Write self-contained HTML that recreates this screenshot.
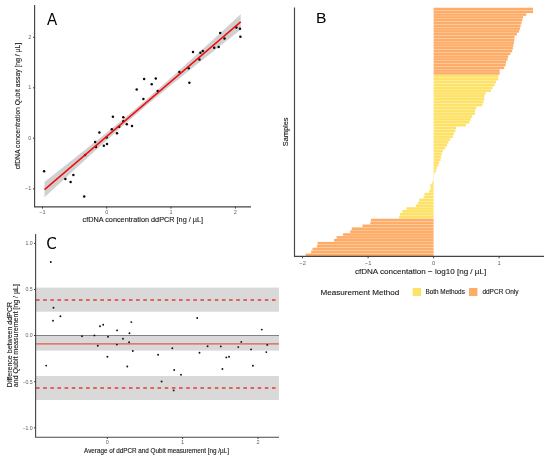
<!DOCTYPE html>
<html lang="en"><head><meta charset="utf-8"><title>cfDNA concentration figure</title>
<style>
html,body{margin:0;padding:0;background:#fff;}
body{width:550px;height:461px;overflow:hidden;}
svg{display:block;font-family:"Liberation Sans",sans-serif;}
.ax{stroke:#444;stroke-width:1.15;fill:none;}
.tk{stroke:#3c3c3c;stroke-width:1;}
.tl{font-size:5.5px;fill:#606060;}
.lab{font-size:7.2px;fill:#1a1a1a;stroke:#1a1a1a;stroke-width:0.12;}
</style></head><body>
<svg width="550" height="461" viewBox="0 0 550 461">
<rect width="550" height="461" fill="#fff"/>

<g id="panelA">
<polygon points="44.5,181.9 49.4,178.0 54.3,174.2 59.2,170.3 64.1,166.4 69.0,162.6 73.9,158.7 78.8,154.8 83.7,150.9 88.6,147.0 93.5,143.1 98.5,139.2 103.4,135.2 108.3,131.3 113.2,127.3 118.1,123.3 123.0,119.3 127.9,115.2 132.8,111.1 137.7,106.9 142.6,102.7 147.5,98.5 152.4,94.2 157.3,89.9 162.2,85.6 167.1,81.2 172.0,76.8 176.9,72.4 181.8,68.0 186.7,63.6 191.7,59.1 196.6,54.6 201.5,50.2 206.4,45.7 211.3,41.2 216.2,36.7 221.1,32.2 226.0,27.7 230.9,23.2 235.8,18.7 240.7,14.2 240.7,29.6 235.8,33.5 230.9,37.4 226.0,41.2 221.1,45.1 216.2,49.0 211.3,52.9 206.4,56.8 201.5,60.7 196.6,64.6 191.7,68.5 186.7,72.5 181.8,76.4 176.9,80.4 172.0,84.3 167.1,88.3 162.2,92.4 157.3,96.4 152.4,100.5 147.5,104.6 142.6,108.8 137.7,112.9 132.8,117.2 127.9,121.5 123.0,125.8 118.1,130.1 113.2,134.5 108.3,138.9 103.4,143.3 98.5,147.8 93.5,152.2 88.6,156.7 83.7,161.2 78.8,165.7 73.9,170.2 69.0,174.7 64.1,179.2 59.2,183.7 54.3,188.2 49.4,192.8 44.5,197.3" fill="#d0d0d0"/>
<circle cx="44.1" cy="171.2" r="1.25" fill="#0a0a0a"/>
<circle cx="65.4" cy="179.0" r="1.25" fill="#0a0a0a"/>
<circle cx="70.6" cy="182.0" r="1.25" fill="#0a0a0a"/>
<circle cx="73.4" cy="174.9" r="1.25" fill="#0a0a0a"/>
<circle cx="84.2" cy="196.4" r="1.25" fill="#0a0a0a"/>
<circle cx="85.1" cy="155.1" r="1.25" fill="#0a0a0a"/>
<circle cx="95.1" cy="142.1" r="1.25" fill="#0a0a0a"/>
<circle cx="96.0" cy="146.9" r="1.25" fill="#0a0a0a"/>
<circle cx="99.4" cy="132.6" r="1.25" fill="#0a0a0a"/>
<circle cx="103.8" cy="145.8" r="1.25" fill="#0a0a0a"/>
<circle cx="107.0" cy="144.1" r="1.25" fill="#0a0a0a"/>
<circle cx="106.6" cy="137.6" r="1.25" fill="#0a0a0a"/>
<circle cx="111.8" cy="129.3" r="1.25" fill="#0a0a0a"/>
<circle cx="112.9" cy="116.7" r="1.25" fill="#0a0a0a"/>
<circle cx="117.0" cy="133.2" r="1.25" fill="#0a0a0a"/>
<circle cx="119.2" cy="126.7" r="1.25" fill="#0a0a0a"/>
<circle cx="123.3" cy="117.2" r="1.25" fill="#0a0a0a"/>
<circle cx="123.3" cy="121.3" r="1.25" fill="#0a0a0a"/>
<circle cx="126.8" cy="124.3" r="1.25" fill="#0a0a0a"/>
<circle cx="132.0" cy="126.1" r="1.25" fill="#0a0a0a"/>
<circle cx="136.7" cy="89.4" r="1.25" fill="#0a0a0a"/>
<circle cx="143.4" cy="99.0" r="1.25" fill="#0a0a0a"/>
<circle cx="144.1" cy="78.9" r="1.25" fill="#0a0a0a"/>
<circle cx="151.7" cy="84.2" r="1.25" fill="#0a0a0a"/>
<circle cx="155.8" cy="78.5" r="1.25" fill="#0a0a0a"/>
<circle cx="157.7" cy="91.1" r="1.25" fill="#0a0a0a"/>
<circle cx="179.4" cy="72.0" r="1.25" fill="#0a0a0a"/>
<circle cx="188.7" cy="68.2" r="1.25" fill="#0a0a0a"/>
<circle cx="189.4" cy="82.8" r="1.25" fill="#0a0a0a"/>
<circle cx="193.0" cy="52.0" r="1.25" fill="#0a0a0a"/>
<circle cx="199.4" cy="59.6" r="1.25" fill="#0a0a0a"/>
<circle cx="200.4" cy="52.7" r="1.25" fill="#0a0a0a"/>
<circle cx="202.8" cy="51.0" r="1.25" fill="#0a0a0a"/>
<circle cx="214.2" cy="47.7" r="1.25" fill="#0a0a0a"/>
<circle cx="218.7" cy="47.0" r="1.25" fill="#0a0a0a"/>
<circle cx="220.2" cy="32.9" r="1.25" fill="#0a0a0a"/>
<circle cx="224.5" cy="38.4" r="1.25" fill="#0a0a0a"/>
<circle cx="236.4" cy="27.4" r="1.25" fill="#0a0a0a"/>
<circle cx="240.0" cy="28.8" r="1.25" fill="#0a0a0a"/>
<circle cx="240.4" cy="36.7" r="1.25" fill="#0a0a0a"/>
<line x1="44.5" y1="189.6" x2="240.7" y2="21.9" stroke="#f20d0d" stroke-width="1.5"/>
<path class="ax" d="M34.6 5V206.8H251"/>
<line class="tk" x1="33" y1="37.3" x2="34.6" y2="37.3"/>
<text class="tl" x="31.3" y="38.9" text-anchor="end">2</text>
<line class="tk" x1="33" y1="87.8" x2="34.6" y2="87.8"/>
<text class="tl" x="31.3" y="89.4" text-anchor="end">1</text>
<line class="tk" x1="33" y1="138.2" x2="34.6" y2="138.2"/>
<text class="tl" x="31.3" y="139.8" text-anchor="end">0</text>
<line class="tk" x1="33" y1="188.8" x2="34.6" y2="188.8"/>
<text class="tl" x="31.3" y="190.4" text-anchor="end">−1</text>
<line class="tk" x1="42.5" y1="206.8" x2="42.5" y2="208.6"/>
<text class="tl" x="42.5" y="214" text-anchor="middle">−1</text>
<line class="tk" x1="106.7" y1="206.8" x2="106.7" y2="208.6"/>
<text class="tl" x="106.7" y="214" text-anchor="middle">0</text>
<line class="tk" x1="171.0" y1="206.8" x2="171.0" y2="208.6"/>
<text class="tl" x="171.0" y="214" text-anchor="middle">1</text>
<line class="tk" x1="235.4" y1="206.8" x2="235.4" y2="208.6"/>
<text class="tl" x="235.4" y="214" text-anchor="middle">2</text>
<text class="lab" x="142.8" y="221.7" text-anchor="middle" style="font-size:7.3px">cfDNA concentration ddPCR [ng / µL]</text>
<text class="lab" transform="translate(20.3,106) rotate(-90)" text-anchor="middle" style="font-size:6.8px">cfDNA concentration Qubit assay [ng / µL]</text>
<text transform="translate(46.9,24.7) scale(0.92,1)" style="font-size:16.5px" fill="#000">A</text>
</g>
<g id="panelB">
<rect x="433.6" y="7.71" width="99.4" height="2.58" fill="#fdad68"/>
<rect x="433.6" y="10.51" width="99.4" height="2.58" fill="#fdad68"/>
<rect x="433.6" y="13.31" width="92.6" height="2.58" fill="#fdad68"/>
<rect x="433.6" y="16.11" width="89.4" height="2.58" fill="#fdad68"/>
<rect x="433.6" y="18.91" width="88.6" height="2.58" fill="#fdad68"/>
<rect x="433.6" y="21.71" width="87.9" height="2.58" fill="#fdad68"/>
<rect x="433.6" y="24.51" width="87.1" height="2.58" fill="#fdad68"/>
<rect x="433.6" y="27.31" width="86.4" height="2.58" fill="#fdad68"/>
<rect x="433.6" y="30.11" width="85.5" height="2.58" fill="#fdad68"/>
<rect x="433.6" y="32.91" width="83.3" height="2.58" fill="#fdad68"/>
<rect x="433.6" y="35.71" width="81.1" height="2.58" fill="#fdad68"/>
<rect x="433.6" y="38.51" width="80.8" height="2.58" fill="#fdad68"/>
<rect x="433.6" y="41.31" width="80.4" height="2.58" fill="#fdad68"/>
<rect x="433.6" y="44.11" width="79.8" height="2.58" fill="#fdad68"/>
<rect x="433.6" y="46.91" width="79.3" height="2.58" fill="#fdad68"/>
<rect x="433.6" y="49.71" width="78.6" height="2.58" fill="#fdad68"/>
<rect x="433.6" y="52.51" width="76.8" height="2.58" fill="#fdad68"/>
<rect x="433.6" y="55.31" width="74.6" height="2.58" fill="#fdad68"/>
<rect x="433.6" y="58.11" width="73.9" height="2.58" fill="#fdad68"/>
<rect x="433.6" y="60.91" width="72.4" height="2.58" fill="#fdad68"/>
<rect x="433.6" y="63.71" width="72.0" height="2.58" fill="#fdad68"/>
<rect x="433.6" y="66.51" width="70.6" height="2.58" fill="#fdad68"/>
<rect x="433.6" y="69.31" width="66.1" height="2.58" fill="#fdad68"/>
<rect x="433.6" y="72.11" width="66.1" height="2.58" fill="#fdad68"/>
<rect x="433.6" y="74.91" width="64.6" height="2.65" fill="#fee268"/>
<rect x="433.6" y="77.79" width="64.6" height="2.65" fill="#fee268"/>
<rect x="433.6" y="80.66" width="62.4" height="2.65" fill="#fee268"/>
<rect x="433.6" y="83.54" width="61.1" height="2.65" fill="#fee268"/>
<rect x="433.6" y="86.41" width="58.9" height="2.65" fill="#fee268"/>
<rect x="433.6" y="89.29" width="57.4" height="2.65" fill="#fee268"/>
<rect x="433.6" y="92.17" width="51.9" height="2.65" fill="#fee268"/>
<rect x="433.6" y="95.04" width="50.6" height="2.65" fill="#fee268"/>
<rect x="433.6" y="97.92" width="50.6" height="2.65" fill="#fee268"/>
<rect x="433.6" y="100.79" width="49.7" height="2.65" fill="#fee268"/>
<rect x="433.6" y="103.67" width="48.8" height="2.65" fill="#fee268"/>
<rect x="433.6" y="106.55" width="42.7" height="2.65" fill="#fee268"/>
<rect x="433.6" y="109.42" width="41.4" height="2.65" fill="#fee268"/>
<rect x="433.6" y="112.30" width="41.4" height="2.65" fill="#fee268"/>
<rect x="433.6" y="115.17" width="38.6" height="2.65" fill="#fee268"/>
<rect x="433.6" y="118.05" width="37.1" height="2.65" fill="#fee268"/>
<rect x="433.6" y="120.93" width="35.8" height="2.65" fill="#fee268"/>
<rect x="433.6" y="123.80" width="32.3" height="2.65" fill="#fee268"/>
<rect x="433.6" y="126.68" width="22.5" height="2.65" fill="#fee268"/>
<rect x="433.6" y="129.55" width="21.7" height="2.65" fill="#fee268"/>
<rect x="433.6" y="132.43" width="20.2" height="2.65" fill="#fee268"/>
<rect x="433.6" y="135.31" width="19.2" height="2.65" fill="#fee268"/>
<rect x="433.6" y="138.18" width="16.6" height="2.65" fill="#fee268"/>
<rect x="433.6" y="141.06" width="14.8" height="2.65" fill="#fee268"/>
<rect x="433.6" y="143.93" width="13.3" height="2.65" fill="#fee268"/>
<rect x="433.6" y="146.81" width="11.4" height="2.65" fill="#fee268"/>
<rect x="433.6" y="149.69" width="9.2" height="2.65" fill="#fee268"/>
<rect x="433.6" y="152.56" width="8.2" height="2.65" fill="#fee268"/>
<rect x="433.6" y="155.44" width="7.4" height="2.65" fill="#fee268"/>
<rect x="433.6" y="158.31" width="7.0" height="2.65" fill="#fee268"/>
<rect x="433.6" y="161.19" width="5.5" height="2.65" fill="#fee268"/>
<rect x="433.6" y="164.07" width="4.5" height="2.65" fill="#fee268"/>
<rect x="433.6" y="166.94" width="3.0" height="2.65" fill="#fee268"/>
<rect x="433.6" y="169.82" width="2.3" height="2.65" fill="#fee268"/>
<rect x="433.6" y="172.69" width="0.8" height="2.65" fill="#fee268"/>
<rect x="433.6" y="175.57" width="0.4" height="2.65" fill="#fee268"/>
<rect x="433.6" y="178.45" width="0.4" height="2.65" fill="#fee268"/>
<rect x="432.2" y="181.32" width="1.4" height="2.65" fill="#fee268"/>
<rect x="430.4" y="184.20" width="3.2" height="2.65" fill="#fee268"/>
<rect x="430.4" y="187.07" width="3.2" height="2.65" fill="#fee268"/>
<rect x="429.2" y="189.95" width="4.4" height="2.65" fill="#fee268"/>
<rect x="424.4" y="192.83" width="9.2" height="2.65" fill="#fee268"/>
<rect x="423.8" y="195.70" width="9.8" height="2.65" fill="#fee268"/>
<rect x="419.2" y="198.58" width="14.4" height="2.65" fill="#fee268"/>
<rect x="418.1" y="201.45" width="15.5" height="2.65" fill="#fee268"/>
<rect x="416.0" y="204.33" width="17.6" height="2.65" fill="#fee268"/>
<rect x="406.5" y="207.21" width="27.1" height="2.65" fill="#fee268"/>
<rect x="402.2" y="210.08" width="31.4" height="2.65" fill="#fee268"/>
<rect x="399.9" y="212.96" width="33.7" height="2.65" fill="#fee268"/>
<rect x="399.1" y="215.83" width="34.5" height="2.65" fill="#fee268"/>
<rect x="370.9" y="218.71" width="62.7" height="2.67" fill="#fdad68"/>
<rect x="370.3" y="221.61" width="63.3" height="2.67" fill="#fdad68"/>
<rect x="362.5" y="224.51" width="71.1" height="2.67" fill="#fdad68"/>
<rect x="351.7" y="227.41" width="81.9" height="2.67" fill="#fdad68"/>
<rect x="350.2" y="230.31" width="83.4" height="2.67" fill="#fdad68"/>
<rect x="343.1" y="233.21" width="90.5" height="2.67" fill="#fdad68"/>
<rect x="336.6" y="236.11" width="97.0" height="2.67" fill="#fdad68"/>
<rect x="334.0" y="239.01" width="99.6" height="2.67" fill="#fdad68"/>
<rect x="317.6" y="241.91" width="116.0" height="2.67" fill="#fdad68"/>
<rect x="316.9" y="244.81" width="116.7" height="2.67" fill="#fdad68"/>
<rect x="312.5" y="247.71" width="121.1" height="2.67" fill="#fdad68"/>
<rect x="311.1" y="250.61" width="122.5" height="2.67" fill="#fdad68"/>
<rect x="305.6" y="253.51" width="128.0" height="2.67" fill="#fdad68"/>
<path class="ax" d="M294.5 7.4V256.3H544"/>
<line class="tk" x1="302.6" y1="256.3" x2="302.6" y2="258.3"/>
<text class="tl" x="302.6" y="265" text-anchor="middle" style="font-size:5.8px">−2</text>
<line class="tk" x1="368.1" y1="256.3" x2="368.1" y2="258.3"/>
<text class="tl" x="368.1" y="265" text-anchor="middle" style="font-size:5.8px">−1</text>
<line class="tk" x1="433.6" y1="256.3" x2="433.6" y2="258.3"/>
<text class="tl" x="433.6" y="265" text-anchor="middle" style="font-size:5.8px">0</text>
<line class="tk" x1="499.1" y1="256.3" x2="499.1" y2="258.3"/>
<text class="tl" x="499.1" y="265" text-anchor="middle" style="font-size:5.8px">1</text>
<text class="lab" x="420.6" y="273.5" text-anchor="middle" style="font-size:8.07px">cfDNA concentation − log10 [ng / µL]</text>
<text class="lab" transform="translate(287.9,131.9) rotate(-90)" text-anchor="middle" style="font-size:7.4px">Samples</text>
<text transform="translate(316.1,23.1) scale(1.06,1)" style="font-size:14.8px" fill="#000">B</text>
<text class="lab" x="320.5" y="294.8" style="font-size:8.1px">Measurement Method</text>
<rect x="412.7" y="288" width="8.4" height="8" fill="#fee268"/>
<text class="lab" x="425.4" y="294" style="font-size:6.4px">Both Methods</text>
<rect x="469" y="288" width="8.4" height="8" fill="#fdad68"/>
<text class="lab" x="482.4" y="294" style="font-size:6.5px">ddPCR Only</text>
</g>
<g id="panelC">
<rect x="35.6" y="287.6" width="243.4" height="24.1" fill="#d9d9d9"/>
<rect x="35.6" y="335.5" width="243.4" height="15.1" fill="#d9d9d9"/>
<rect x="35.6" y="376.0" width="243.4" height="24.0" fill="#d9d9d9"/>
<line x1="35.6" y1="335.5" x2="279.0" y2="335.5" stroke="#555" stroke-width="0.7"/>
<line x1="35.6" y1="343.8" x2="279.0" y2="343.8" stroke="#e4574f" stroke-width="1.35"/>
<line x1="36.0" y1="300.0" x2="279.0" y2="300.0" stroke="#e23b34" stroke-width="1.3" stroke-dasharray="3.6 3.55"/>
<line x1="36.0" y1="388.0" x2="279.0" y2="388.0" stroke="#e23b34" stroke-width="1.3" stroke-dasharray="3.6 3.55"/>
<circle cx="50.8" cy="262.0" r="0.95" fill="#111"/>
<circle cx="53.5" cy="307.8" r="0.95" fill="#111"/>
<circle cx="53.0" cy="320.8" r="0.95" fill="#111"/>
<circle cx="60.4" cy="316.2" r="0.95" fill="#111"/>
<circle cx="46.2" cy="365.6" r="0.95" fill="#111"/>
<circle cx="82.0" cy="336.2" r="0.95" fill="#111"/>
<circle cx="94.4" cy="335.4" r="0.95" fill="#111"/>
<circle cx="100.0" cy="326.2" r="0.95" fill="#111"/>
<circle cx="103.2" cy="324.8" r="0.95" fill="#111"/>
<circle cx="97.8" cy="345.8" r="0.95" fill="#111"/>
<circle cx="108.0" cy="336.8" r="0.95" fill="#111"/>
<circle cx="107.4" cy="356.8" r="0.95" fill="#111"/>
<circle cx="117.1" cy="330.4" r="0.95" fill="#111"/>
<circle cx="116.9" cy="344.6" r="0.95" fill="#111"/>
<circle cx="123.0" cy="338.8" r="0.95" fill="#111"/>
<circle cx="127.3" cy="366.5" r="0.95" fill="#111"/>
<circle cx="129.5" cy="333.2" r="0.95" fill="#111"/>
<circle cx="129.1" cy="342.3" r="0.95" fill="#111"/>
<circle cx="131.3" cy="322.1" r="0.95" fill="#111"/>
<circle cx="132.8" cy="351.0" r="0.95" fill="#111"/>
<circle cx="158.1" cy="354.8" r="0.95" fill="#111"/>
<circle cx="172.3" cy="348.3" r="0.95" fill="#111"/>
<circle cx="174.2" cy="370.0" r="0.95" fill="#111"/>
<circle cx="197.2" cy="318.0" r="0.95" fill="#111"/>
<circle cx="199.5" cy="352.7" r="0.95" fill="#111"/>
<circle cx="161.6" cy="381.5" r="0.95" fill="#111"/>
<circle cx="173.7" cy="390.4" r="0.95" fill="#111"/>
<circle cx="181.0" cy="374.7" r="0.95" fill="#111"/>
<circle cx="207.6" cy="346.2" r="0.95" fill="#111"/>
<circle cx="220.8" cy="346.4" r="0.95" fill="#111"/>
<circle cx="222.4" cy="369.0" r="0.95" fill="#111"/>
<circle cx="226.3" cy="357.4" r="0.95" fill="#111"/>
<circle cx="229.0" cy="356.7" r="0.95" fill="#111"/>
<circle cx="238.3" cy="347.1" r="0.95" fill="#111"/>
<circle cx="241.3" cy="341.9" r="0.95" fill="#111"/>
<circle cx="251.1" cy="349.4" r="0.95" fill="#111"/>
<circle cx="252.9" cy="365.8" r="0.95" fill="#111"/>
<circle cx="261.8" cy="329.6" r="0.95" fill="#111"/>
<circle cx="266.3" cy="352.1" r="0.95" fill="#111"/>
<circle cx="267.3" cy="344.9" r="0.95" fill="#111"/>
<path class="ax" d="M35.6 234V437.2H279" style="stroke:#4a4a4a"/>
<line class="tk" x1="34" y1="243.4" x2="35.6" y2="243.4"/>
<text class="tl" x="32.7" y="245.2" text-anchor="end" style="font-size:5.2px">1.0</text>
<line class="tk" x1="34" y1="289.5" x2="35.6" y2="289.5"/>
<text class="tl" x="32.7" y="291.3" text-anchor="end" style="font-size:5.2px">0.5</text>
<line class="tk" x1="34" y1="335.5" x2="35.6" y2="335.5"/>
<text class="tl" x="32.7" y="337.3" text-anchor="end" style="font-size:5.2px">0.0</text>
<line class="tk" x1="34" y1="381.7" x2="35.6" y2="381.7"/>
<text class="tl" x="32.7" y="383.5" text-anchor="end" style="font-size:5.2px">−0.5</text>
<line class="tk" x1="34" y1="427.8" x2="35.6" y2="427.8"/>
<text class="tl" x="32.7" y="429.6" text-anchor="end" style="font-size:5.2px">−1.0</text>
<line class="tk" x1="107.3" y1="437.2" x2="107.3" y2="439" />
<text class="tl" x="107.3" y="443.7" text-anchor="middle" style="font-size:5.5px">0</text>
<line class="tk" x1="182.6" y1="437.2" x2="182.6" y2="439" />
<text class="tl" x="182.6" y="443.7" text-anchor="middle" style="font-size:5.5px">1</text>
<line class="tk" x1="258.0" y1="437.2" x2="258.0" y2="439" />
<text class="tl" x="258.0" y="443.7" text-anchor="middle" style="font-size:5.5px">2</text>
<text class="lab" x="156.5" y="452.6" text-anchor="middle" style="font-size:6.32px">Average of ddPCR and Qubit measurement [ng /µL]</text>
<text class="lab" transform="translate(11.9,387.2) rotate(-90)" style="font-size:7.05px">Difference between ddPCR</text>
<text class="lab" transform="translate(18.2,387.2) rotate(-90)" style="font-size:7.05px">and Qubit measurement [ng / µL]</text>
<text x="46.3" y="248.6" style="font-size:15.2px;font-family:'DejaVu Sans','Liberation Sans',sans-serif" fill="#000">C</text>
</g>
</svg></body></html>
